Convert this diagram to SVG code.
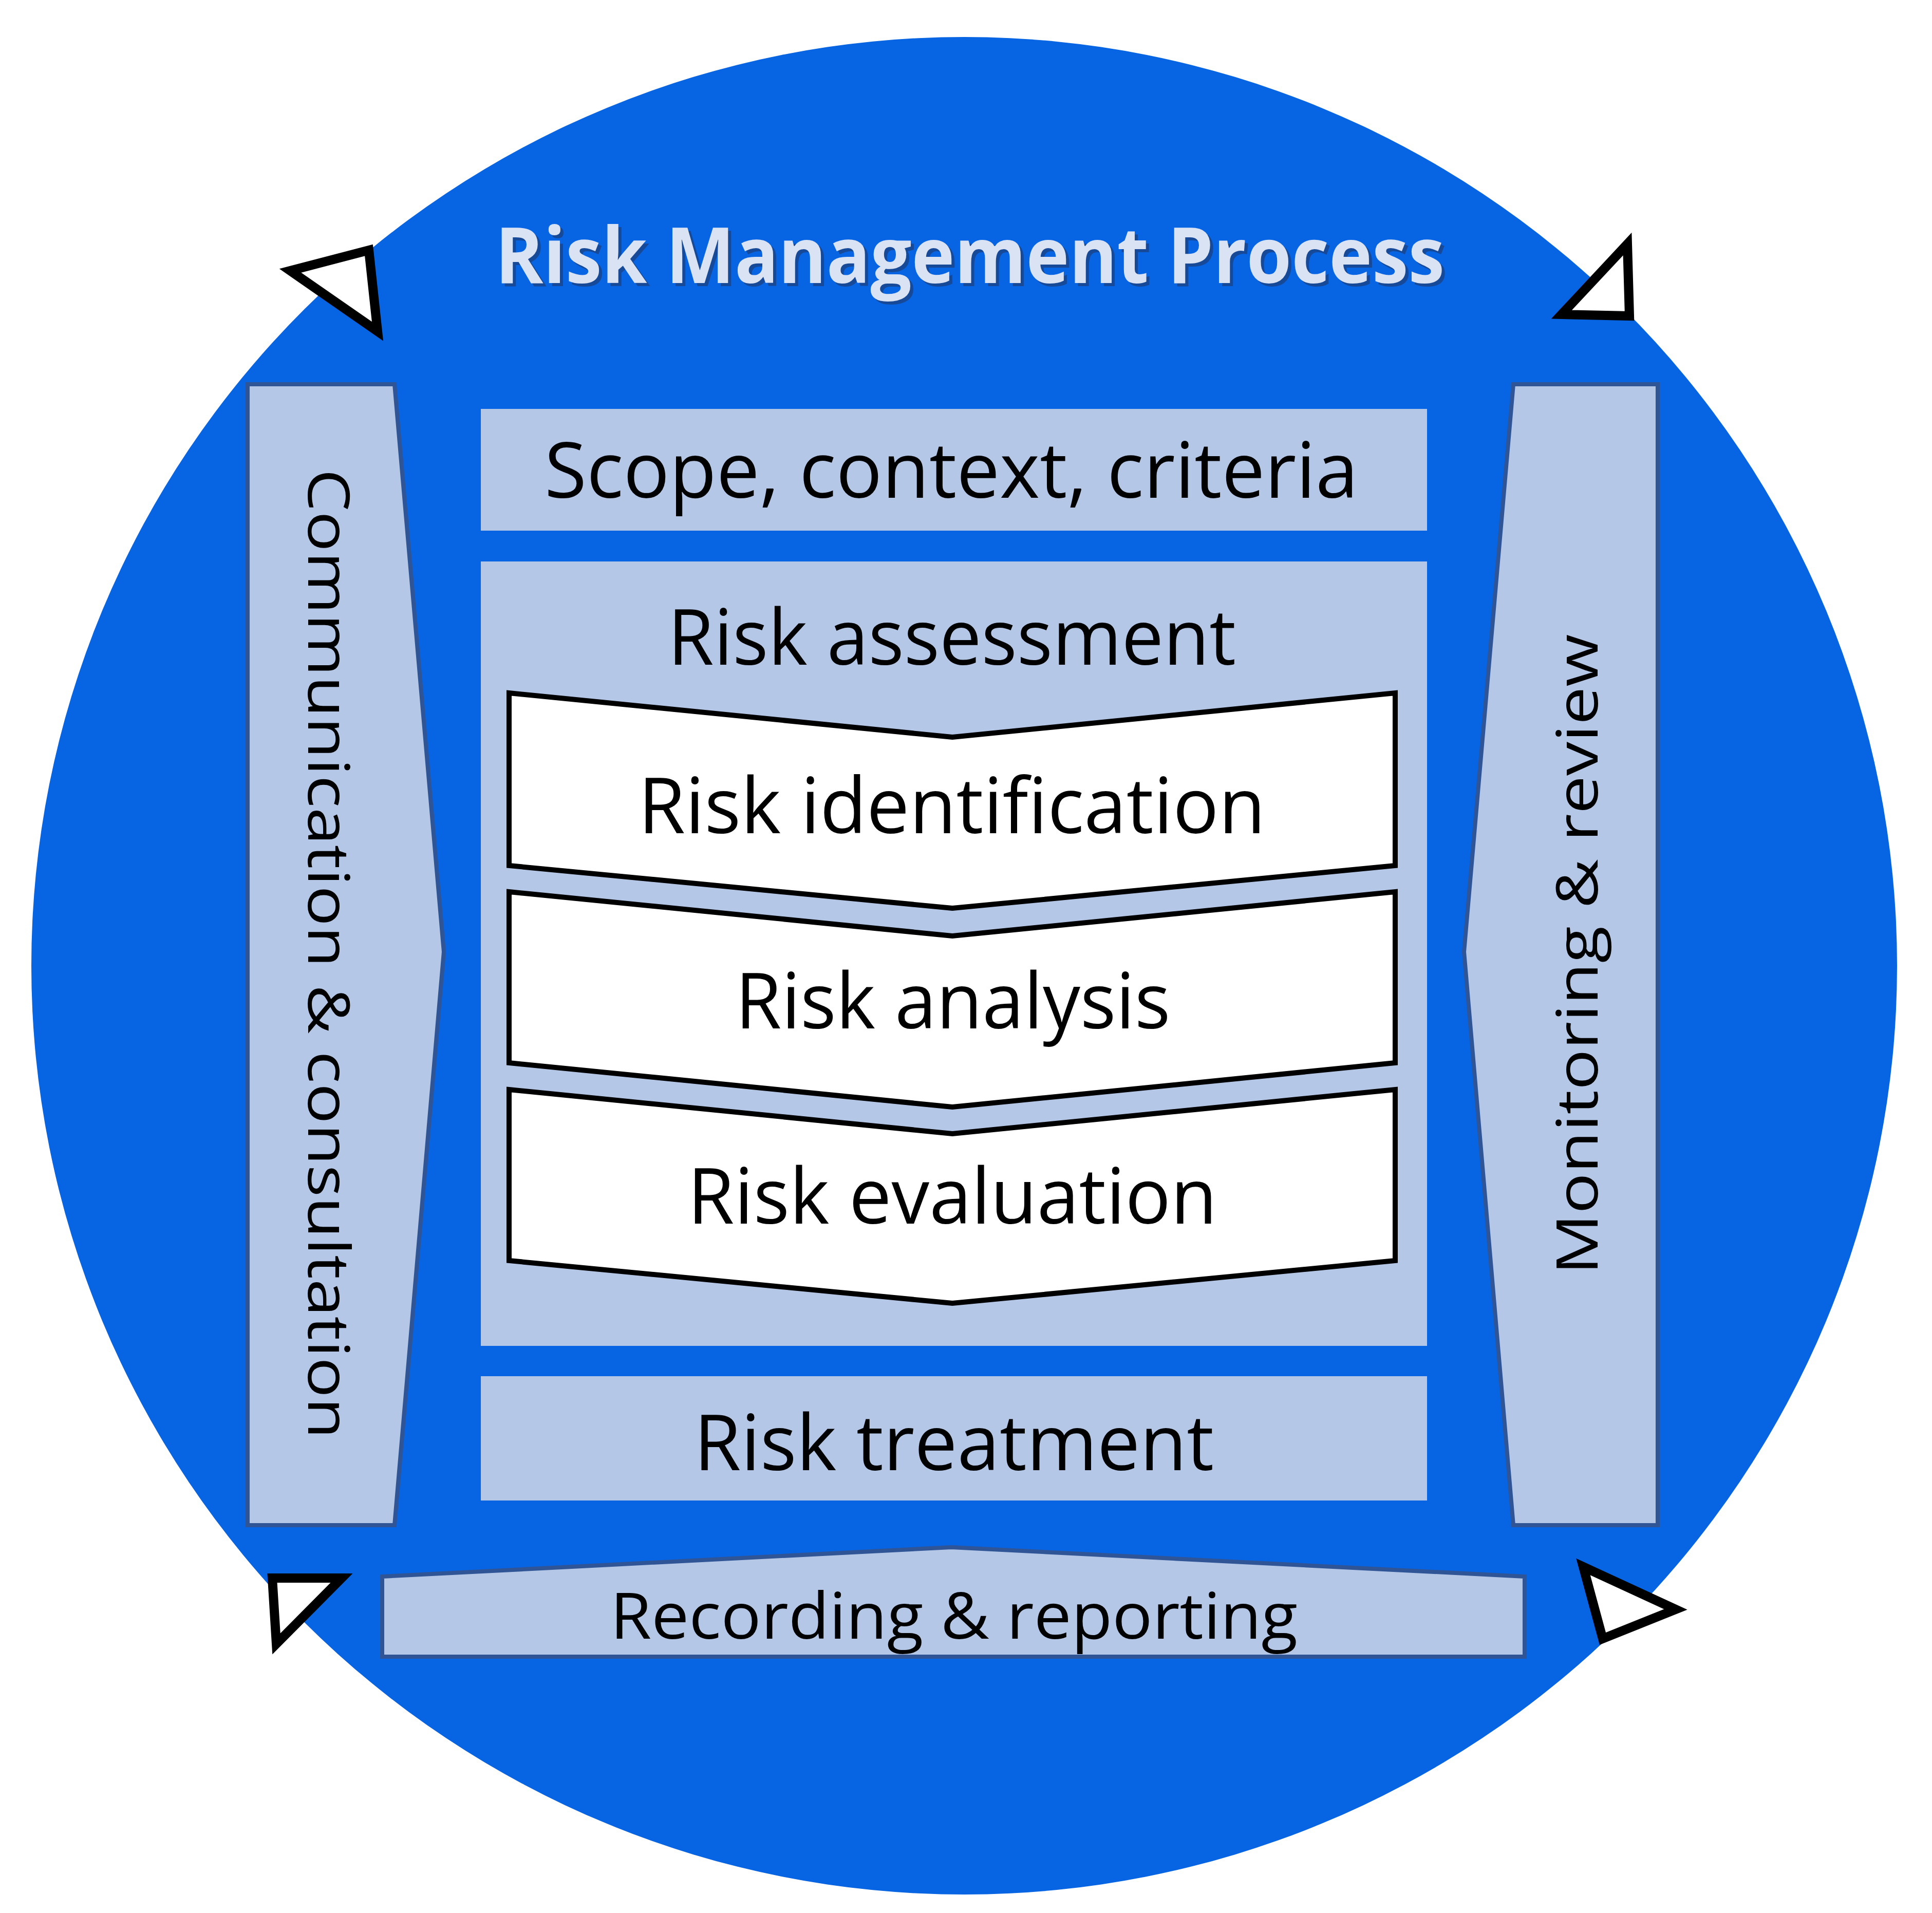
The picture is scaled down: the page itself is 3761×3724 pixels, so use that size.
<svg xmlns="http://www.w3.org/2000/svg" width="3761" height="3724" viewBox="0 0 3761 3724">
<style>
.box{fill:#b4c7e7;stroke:#2f5597;stroke-width:8}
.flat{fill:#b4c7e7}
.chev{fill:#ffffff;stroke:#000;stroke-width:10;stroke-linejoin:miter}
.t{font-family:"Open Sans","Liberation Sans",sans-serif;fill:#000;text-anchor:middle}
.tri{fill:#fff;stroke:#000;stroke-width:18;stroke-linejoin:miter}
</style>
<rect width="3761" height="3724" fill="#fff"/>
<ellipse cx="1877" cy="1880" rx="1816" ry="1808" fill="#0764e2"/>
<g id="title">
<text x="1894" y="557" class="t" style="fill:#1d3f7a;opacity:0.7" font-size="150" font-weight="bold" textLength="1848" lengthAdjust="spacingAndGlyphs">Risk Management Process</text>
<text x="1888" y="551" class="t" style="fill:#dae3f3" font-size="150" font-weight="bold" textLength="1848" lengthAdjust="spacingAndGlyphs">Risk Management Process</text>
</g>
<g id="communication">
<polygon class="box" points="482,748 768,748 864,1853 768,2969 482,2969"/>
<text class="t" font-size="112" transform="translate(600,1857) rotate(90)" textLength="1888" lengthAdjust="spacingAndGlyphs">Communication &amp; consultation</text>
</g>
<g id="monitoring">
<polygon class="box" points="2946,748 3227,748 3227,2969 2946,2969 2850,1853"/>
<text class="t" font-size="112" transform="translate(3110,1858) rotate(-90)" textLength="1247" lengthAdjust="spacingAndGlyphs">Monitoring &amp; review</text>
</g>
<g id="scope">
<rect class="flat" x="936" y="796" width="1842" height="237"/>
<text class="t" x="1852" y="969" font-size="150" textLength="1584" lengthAdjust="spacingAndGlyphs">Scope, context, criteria</text>
</g>
<g id="assessment">
<rect class="flat" x="936" y="1093" width="1842" height="1527"/>
<text class="t" x="1853" y="1294" font-size="150" textLength="1106" lengthAdjust="spacingAndGlyphs">Risk assessment</text>
</g>
<g id="identification">
<polygon class="chev" points="991,1349 1854,1435 2716,1349 2716,1685 1854,1768 991,1685"/>
<text class="t" x="1853" y="1622" font-size="150" textLength="1221" lengthAdjust="spacingAndGlyphs">Risk identification</text>
</g>
<g id="analysis">
<polygon class="chev" points="991,1736 1854,1822 2716,1736 2716,2069 1854,2155 991,2069"/>
<text class="t" x="1855" y="2002" font-size="150" textLength="847" lengthAdjust="spacingAndGlyphs">Risk analysis</text>
</g>
<g id="evaluation">
<polygon class="chev" points="991,2121 1854,2207 2716,2121 2716,2454 1854,2537 991,2454"/>
<text class="t" x="1854" y="2382" font-size="150" textLength="1031" lengthAdjust="spacingAndGlyphs">Risk evaluation</text>
</g>
<g id="treatment">
<rect class="flat" x="936" y="2679" width="1842" height="242"/>
<text class="t" x="1857" y="2862" font-size="150" textLength="1012" lengthAdjust="spacingAndGlyphs">Risk treatment</text>
</g>
<g id="recording">
<polygon class="box" points="744,3069 1852,3012 2968,3069 2968,3225 744,3225"/>
<text class="t" x="1857" y="3190" font-size="125" textLength="1338" lengthAdjust="spacingAndGlyphs">Recording &amp; reporting</text>
</g>
<g id="connectors">
<polygon class="tri" points="565,527 718,487 735,645"/>
<polygon class="tri" points="3040,612 3168,475 3172,615"/>
<polygon class="tri" points="3082,3050 3262,3133 3120,3190"/>
<polygon class="tri" points="538,3200 530,3072 665,3072"/>
</g>
</svg>
